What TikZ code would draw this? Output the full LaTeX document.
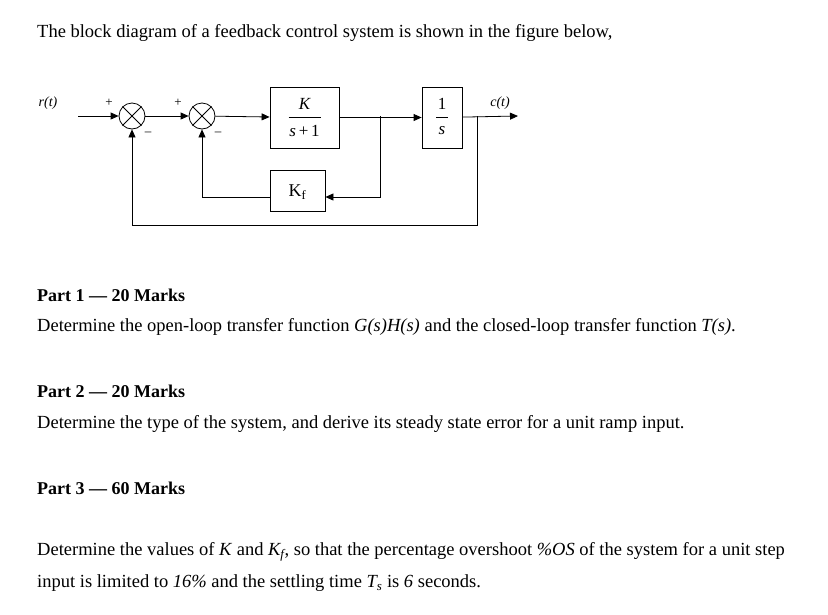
\documentclass[tikz,border=0pt]{standalone}
\usepackage{fontspec}
\setmainfont{Liberation Serif}
\usetikzlibrary{arrows.meta}
\begin{document}
\begin{tikzpicture}[x=1pt,y=-1pt,
  blk/.style={draw,thick,inner sep=0pt},
  sumj/.style={draw,thick,circle,minimum size=26pt,inner sep=0pt},
  wire/.style={thick,-{Triangle[length=8pt,width=7pt]}},
  txt/.style={anchor=west,inner sep=0pt,font=\fontsize{18.5}{21}\selectfont},
  btxt/.style={anchor=west,inner sep=0pt,font=\bfseries\fontsize{18}{21}\selectfont},
  lab/.style={inner sep=0pt,font=\fontsize{17}{19}\selectfont}]
\useasboundingbox (0,0) rectangle (828,614);
\fill[white] (0,0) rectangle (828,614);
\node[txt] (title) at (37,33) {The block diagram of a feedback control system is shown in the figure below,};
% blocks
\node[sumj] (s1) at (132,116) {};
\draw[thick] (s1.45)--(s1.225) (s1.135)--(s1.315);
\node[sumj] (s2) at (202,116) {};
\draw[thick] (s2.45)--(s2.225) (s2.135)--(s2.315);
\node[blk,minimum width=69pt,minimum height=61pt] (g1) at (304.5,117.5) {};
\node[lab] (g1n) at (304.5,104) {\itshape K};
\draw (g1.center)+(-16,0) -- +(16,0);
\node[lab] (g1d) at (304.5,131) {\itshape s\,\upshape+\,1};
\node[blk,minimum width=40pt,minimum height=61pt] (g2) at (442,117.5) {};
\node[lab] (g2n) at (442,104) {1};
\draw (g2.center)+(-6,0) -- +(6,0);
\node[lab] (g2d) at (442,131) {\itshape s};
\node[blk,minimum width=55pt,minimum height=41pt] (kf) at (297.5,190.5) {};
\node[lab,font=\fontsize{18}{20}\selectfont] (kft) at (297.5,192) {K$_{\mathrm f}$};
% labels
\node[lab,font=\itshape\fontsize{14}{16}\selectfont] (rt) at (48,103) {r(t)};
\node[lab,font=\itshape\fontsize{14}{16}\selectfont] (ct) at (500,103) {c(t)};
\node[lab,font=\fontsize{13}{15}\selectfont] at (109,103) {+};
\node[lab,font=\fontsize{13}{15}\selectfont] at (178,103) {+};
\node[lab,font=\fontsize{13}{15}\selectfont] at (148,134) {--};
\node[lab,font=\fontsize{13}{15}\selectfont] at (218,134) {--};
% wires
\coordinate (in) at (78,116);
\coordinate (b1) at (380,116);
\coordinate (b2) at (477,116);
\coordinate (out) at (518,116);
\draw[wire] (in) -- (s1);
\draw[wire] (s1) -- (s2);
\draw[wire] (s2) -- (g1);
\draw[wire] (g1) -- (g2);
\draw[wire] (g2) -- (out);
\draw[wire] (b1) |- (kf.east |- 0,197);
\draw[wire] (kf.west |- 0,197) -| (s2);
\draw[wire] (b2) |- (132,225) -- (s1);
% text
\node[btxt] (p1) at (37,295) {Part 1 --- 20 Marks};
\node[txt] (q1) at (37,327) {Determine the open-loop transfer function \textit{G(s)H(s)} and the closed-loop transfer function \textit{T(s)}.};
\node[btxt] (p2) at (37,391) {Part 2 --- 20 Marks};
\node[txt] (q2) at (37,424) {Determine the type of the system, and derive its steady state error for a unit ramp input.};
\node[btxt] (p3) at (37,488) {Part 3 --- 60 Marks};
\node[txt] (q3) at (37,552) {Determine the values of \textit{K} and \textit{K\textsubscript{f}}, so that the percentage overshoot \textit{\%OS} of the system for a unit step};
\node[txt] (q4) at (37,583) {input is limited to \textit{16\%} and the settling time \textit{T\textsubscript{s}} is \textit{6} seconds.};
\end{tikzpicture}
\end{document}
